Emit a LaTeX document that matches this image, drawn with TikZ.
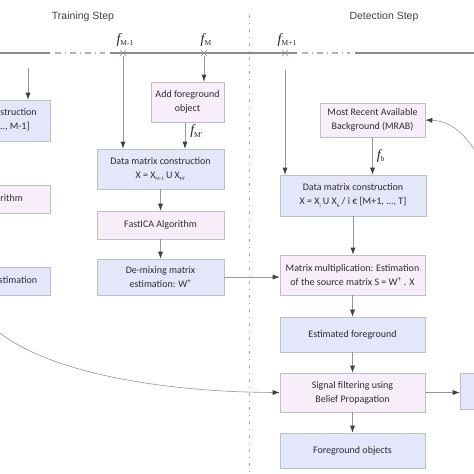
\documentclass[tikz,border=0pt]{standalone}
\usepackage{fontspec}
\setmainfont{Carlito}
\newfontfamily\titlefont{Liberation Sans}
\newfontfamily\serif{Liberation Serif}
\usetikzlibrary{arrows.meta,shapes.misc}
\definecolor{bluefill}{RGB}{228,230,250}
\definecolor{pinkfill}{RGB}{248,238,250}
\definecolor{boxline}{RGB}{190,190,205}
\definecolor{txt}{RGB}{45,45,50}
\definecolor{conn}{RGB}{150,150,150}
\newcommand{\fl}[1]{{\serif\itshape\fontsize{14}{14}\selectfont f}\raisebox{-2.5pt}{\serif\fontsize{7.5}{7.5}\selectfont #1}}
\newcommand{\sbs}[1]{\raisebox{-2.5pt}{\fontsize{5}{5}\selectfont #1}}
\tikzset{
  box/.style={draw=boxline, line width=0.6pt, align=center, text=txt,
    font=\fontsize{10}{14}\selectfont, inner sep=1pt},
  bbox/.style={box, fill=bluefill},
  pbox/.style={box, fill=pinkfill},
  conn/.style={draw=conn, line width=0.6pt, -{Latex[length=7pt,width=5pt,fill=black!75,color=black!75]}},
  tl/.style={draw=black!45, line width=1.2pt},
  tldot/.style={draw=black!30, line width=1.2pt, dash pattern=on 6pt off 4pt on 1pt off 4pt},
  xmark/.style={cross out, draw=black!45, line width=0.5pt, minimum size=6pt, inner sep=0pt},
  flab/.style={text=black!85, inner sep=0pt},
  title/.style={font=\titlefont\fontsize{10.5}{12}\selectfont, text=black!75}
}
\begin{document}
\begin{tikzpicture}[x=1pt,y=-1pt]
\clip (0,0) rectangle (474,474);
\fill[white] (0,0) rectangle (474,474);
% titles
\node[title] (ttrain) at (83,17) {Training Step};
\node[title] (tdetect) at (384,17) {Detection Step};
% separator
\draw[black!35, line width=0.6pt, dash pattern=on 3pt off 5pt on 1pt off 5pt] (249,15) -- (249,474);
% timeline
\draw[tl] (0,53) -- (50,53);
\draw[tldot] (55,53) -- (105,53);
\draw[tl] (110,53) -- (297,53);
\draw[tldot] (302,53) -- (350,53);
\draw[tl] (355,53) -- (474,53);
% crosses and labels
\node[xmark] (x1) at (123,53) {};
\node[xmark] (x2) at (204,53) {};
\node[xmark] (x3) at (285,53) {};
\node[flab] (f1) at (125,40) {\fl{M-1}};
\node[flab] (f2) at (206,40) {\fl{M}};
\node[flab] (f3) at (287,40) {\fl{M+1}};
% left (cropped) column
\node[bbox, minimum width=127pt, minimum height=41pt] (l1) at (-13.5,120.5) {Data matrix construction\\X = X\sbs{i} / i € [1, ..., M-1]};
\node[pbox, minimum width=127pt, minimum height=28pt] (l2) at (-13.5,199) {FastICA Algorithm};
\node[bbox, minimum width=127pt, minimum height=28pt] (l3) at (-13.5,281) {Mixing matrix estimation};
\coordinate (l0) at (28,68);
\draw[conn] (l0) -- (l0 |- l1.north);
% middle column
\node[pbox, minimum width=73pt, minimum height=40pt] (addfg) at (187.5,102) {Add foreground\\object};
\node[bbox, minimum width=127pt, minimum height=40pt] (dm1) at (160.5,169) {Data matrix construction\\X = X\sbs{M-1} U X\sbs{M'}};
\node[pbox, minimum width=127pt, minimum height=28pt] (ica) at (160.5,225) {FastICA Algorithm};
\node[bbox, minimum width=127pt, minimum height=36pt] (demix) at (160.5,277) {De-mixing matrix\\estimation: W\textsuperscript{+}};
% right column
\node[pbox, minimum width=105pt, minimum height=34pt] (mrab) at (372.5,120) {Most Recent Available\\Background (MRAB)};
\node[bbox, minimum width=146pt, minimum height=41pt] (dm2) at (353,195.5) {Data matrix construction\\X = X\sbs{i} U X\sbs{b} / i € [M+1, ..., T]};
\node[pbox, minimum width=145pt, minimum height=40pt] (mult) at (352.5,275) {Matrix multiplication: Estimation\\of the source matrix S = W\textsuperscript{+} . X};
\node[bbox, minimum width=145pt, minimum height=35pt] (estfg) at (352.5,334.5) {Estimated foreground};
\node[pbox, minimum width=145pt, minimum height=39pt] (sig) at (352.5,392.5) {Signal filtering using\\Belief Propagation};
\node[bbox, minimum width=145pt, minimum height=35pt] (fgobj) at (352.5,450.5) {Foreground objects};
\node[bbox, minimum width=80pt, minimum height=36pt] (rbox) at (500,391) {};
% connectors middle
\draw[conn] (x2) -- (x2 |- addfg.north);
\draw[conn] (x1) -- (x1 |- dm1.north);
\draw[conn] (185,0 |- addfg.south) -- node[flab, right=5pt, pos=0.35] (fmp) {\fl{M'}} (185,0 |- dm1.north);
\draw[conn] (dm1) -- (ica);
\draw[conn] (ica) -- (demix);
\draw[conn] (demix.east) -- (mult.west |- demix.east);
% connectors right
\coordinate (x3b) at (285,70);
\draw[conn] (x3b) -- (x3b |- dm2.north);
\draw[conn] (mrab.south) -- node[flab, right=4pt, pos=0.5] (fb) {\fl{b}} (mrab.south |- dm2.north);
\draw[conn] (dm2) -- (dm2 |- mult.north);
\draw[conn] (mult) -- (estfg);
\draw[conn] (estfg) -- (sig);
\draw[conn] (sig) -- (fgobj);
\draw[conn] (sig.east) -- (rbox.west |- sig.east);
% curves
\coordinate (cl) at (0,333);
\draw[conn] (cl) .. controls (50,372) and (160,392) .. (sig.west);
\coordinate (cr) at (476,152);
\draw[conn] (cr) .. controls (462,130) and (448,121) .. (mrab.east);
\end{tikzpicture}
\end{document}
